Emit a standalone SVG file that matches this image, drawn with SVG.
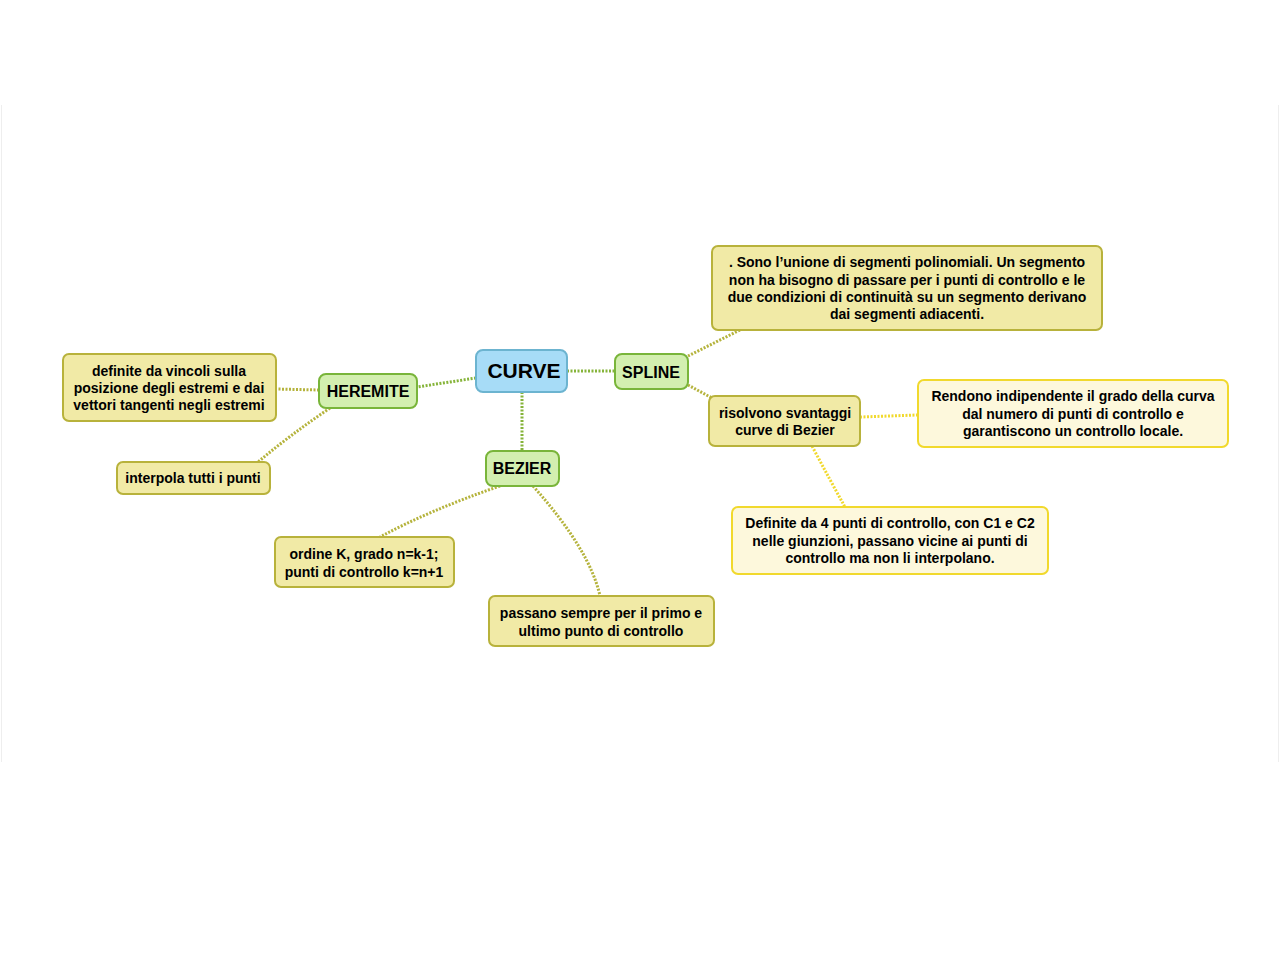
<svg xmlns="http://www.w3.org/2000/svg" width="1280" height="960" viewBox="0 0 1280 960">
<style>
text{font-family:"Liberation Sans",Arial,sans-serif;font-weight:bold;fill:#000;text-anchor:middle}
.t{font-size:14px}
.m{font-size:16px}
.main{fill:#a7dcf7;stroke:#6cb4d0;stroke-width:2}
.g{fill:#d3efb0;stroke:#79b53a;stroke-width:2}
.o{fill:#f1eaa6;stroke:#b8b23b;stroke-width:2}
.y{fill:#fdf8dc;stroke:#f1d92d;stroke-width:2}
.c{fill:none;stroke-width:3;stroke-dasharray:2 1.5}
.cg{stroke:#86b43a}.co{stroke:#b5b33c}.cy{stroke:#f1d92d}
</style>
<rect width="1280" height="960" fill="#fff"/>
<line x1="1.5" y1="105" x2="1.5" y2="762" stroke="#eee"/>
<line x1="1278.5" y1="105" x2="1278.5" y2="762" stroke="#eee"/>
<g id="connectors">
<path class="c cg" d="M567 371 L615 371"/>
<path class="c cg" d="M476 378 L417 387"/>
<path class="c cg" d="M522 392 L522 451"/>
<path class="c co" d="M688 356 L740 330"/>
<path class="c co" d="M688 385 L712 398"/>
<path class="c cy" d="M860 417 L918 415"/>
<path class="c cy" d="M812 446 Q830 480 845 507"/>
<path class="c co" d="M319 390 L276 389"/>
<path class="c co" d="M330 408 Q290 435 258 462"/>
<path class="c co" d="M500 486 Q430 510 380 537"/>
<path class="c co" d="M533 486 Q590 550 600 596"/>
</g>
<g id="curve"><rect class="main" x="476" y="350" width="91" height="42" rx="7"/><text x="524" y="378" font-size="21">CURVE</text></g>
<g id="spline"><rect class="g" x="615" y="354" width="73" height="35" rx="7"/><text class="m" x="651" y="378">SPLINE</text></g>
<g id="heremite"><rect class="g" x="319" y="374" width="98" height="34" rx="7"/><text class="m" x="368" y="397">HEREMITE</text></g>
<g id="bezier"><rect class="g" x="486" y="451" width="73" height="35" rx="7"/><text class="m" x="522" y="474">BEZIER</text></g>
<g id="spline-desc"><rect class="o" x="712" y="246" width="390" height="84" rx="6"/>
<text class="t" x="907" y="267">. Sono l’unione di segmenti polinomiali. Un segmento</text>
<text class="t" x="907" y="285">non ha bisogno di passare per i punti di controllo e le</text>
<text class="t" x="907" y="302">due condizioni di continuità su un segmento derivano</text>
<text class="t" x="907" y="319">dai segmenti adiacenti.</text></g>
<g id="risolvono"><rect class="o" x="709" y="396" width="151" height="50" rx="6"/>
<text class="t" x="785" y="418">risolvono svantaggi</text><text class="t" x="785" y="435">curve di Bezier</text></g>
<g id="rendono"><rect class="y" x="918" y="380" width="310" height="67" rx="6"/>
<text class="t" x="1073" y="401">Rendono indipendente il grado della curva</text>
<text class="t" x="1073" y="419">dal numero di punti di controllo e</text>
<text class="t" x="1073" y="436">garantiscono un controllo locale.</text></g>
<g id="definite4"><rect class="y" x="732" y="507" width="316" height="67" rx="6"/>
<text class="t" x="890" y="528">Definite da 4 punti di controllo, con C1 e C2</text>
<text class="t" x="890" y="546">nelle giunzioni, passano vicine ai punti di</text>
<text class="t" x="890" y="563">controllo ma non li interpolano.</text></g>
<g id="vincoli"><rect class="o" x="63" y="354" width="213" height="67" rx="6"/>
<text class="t" x="169" y="376">definite da vincoli sulla</text>
<text class="t" x="169" y="393">posizione degli estremi e dai</text>
<text class="t" x="169" y="410">vettori tangenti negli estremi</text></g>
<g id="interpola"><rect class="o" x="117" y="462" width="153" height="32" rx="6"/>
<text class="t" x="193" y="483">interpola tutti i punti</text></g>
<g id="ordine"><rect class="o" x="275" y="537" width="179" height="50" rx="6"/>
<text class="t" x="364" y="559">ordine K, grado n=k-1;</text>
<text class="t" x="364" y="577">punti di controllo k=n+1</text></g>
<g id="passano"><rect class="o" x="489" y="596" width="225" height="50" rx="6"/>
<text class="t" x="601" y="618">passano sempre per il primo e</text>
<text class="t" x="601" y="636">ultimo punto di controllo</text></g>
</svg>
